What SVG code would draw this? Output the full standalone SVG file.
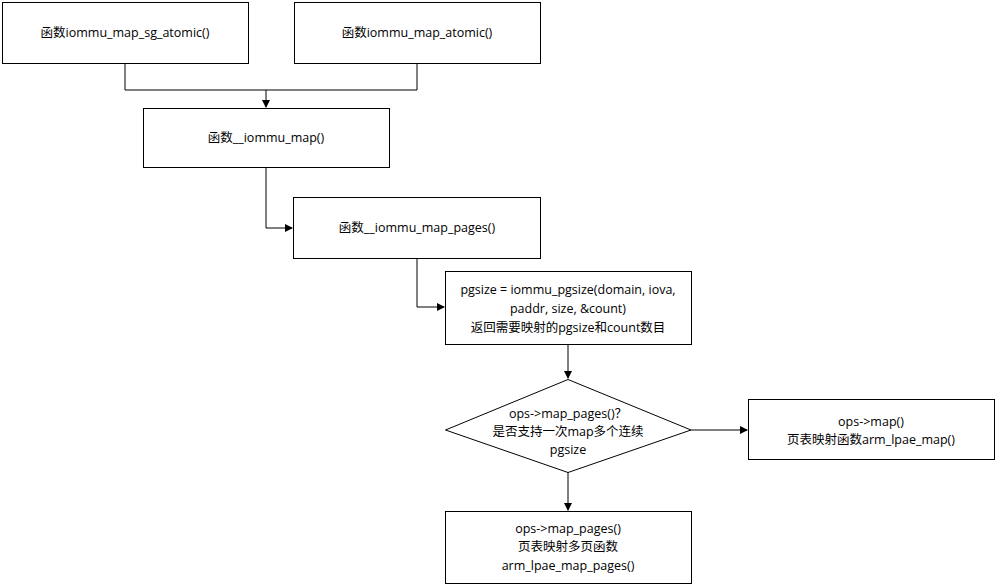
<svg xmlns="http://www.w3.org/2000/svg" width="995" height="584" viewBox="0 0 995 584">
<defs>
<style>
.n{fill:#fff;stroke:#000;stroke-width:1}
text{font-family:"Open Sans","Noto Sans CJK SC",sans-serif;font-size:12.5px;fill:#000;text-anchor:middle}
.c{fill:none;stroke:#000;stroke-width:1}
</style>
<marker id="a" markerWidth="8" markerHeight="8" refX="7" refY="4" orient="auto" markerUnits="userSpaceOnUse"><path d="M0,0L8,4L0,8z" fill="#000"/></marker>
</defs>
<rect width="995" height="584" fill="#fff"/>
<g id="connectors">
<path class="c" d="M125,63V90H266M417,63V90H266V107" marker-end="url(#a)"/>
<path class="c" d="M266,167V228H292" marker-end="url(#a)"/>
<path class="c" d="M417,258V307H444" marker-end="url(#a)"/>
<path class="c" d="M568,344V378" marker-end="url(#a)"/>
<path class="c" d="M691,430H747" marker-end="url(#a)"/>
<path class="c" d="M568,472V510" marker-end="url(#a)"/>
</g>
<g id="n1"><rect class="n" x="2.5" y="2.5" width="246" height="61"/><text x="125" y="37">函数iommu_map_sg_atomic()</text></g>
<g id="n2"><rect class="n" x="294.5" y="2.5" width="246" height="61"/><text x="417" y="37">函数iommu_map_atomic()</text></g>
<g id="n3"><rect class="n" x="143.5" y="108.5" width="246" height="59"/><text x="266" y="142">函数__iommu_map()</text></g>
<g id="n4"><rect class="n" x="293.5" y="197.5" width="247" height="61"/><text x="417" y="232">函数__iommu_map_pages()</text></g>
<g id="n5"><rect class="n" x="445.5" y="271.5" width="246" height="73"/><text x="568" y="294">pgsize = iommu_pgsize(domain, iova,</text><text x="568" y="313">paddr, size, &amp;count)</text><text x="568" y="332">返回需要映射的pgsize和count数目</text></g>
<g id="n6"><path class="n" d="M568,379.5L691,430L568,472.5L445.5,430Z"/><text x="568" y="418">ops-&gt;map_pages()？</text><text x="568" y="436">是否支持一次map多个连续</text><text x="568" y="454">pgsize</text></g>
<g id="n7"><rect class="n" x="748.5" y="399.5" width="246" height="60"/><text x="871" y="426">ops-&gt;map()</text><text x="871" y="444">页表映射函数arm_lpae_map()</text></g>
<g id="n8"><rect class="n" x="445.5" y="511.5" width="246" height="72"/><text x="568" y="533">ops-&gt;map_pages()</text><text x="568" y="551">页表映射多页函数</text><text x="568" y="570">arm_lpae_map_pages()</text></g>
</svg>
